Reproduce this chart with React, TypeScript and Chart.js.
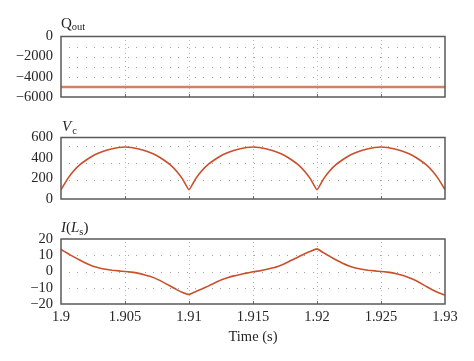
import React, { useEffect, useRef } from "react";
import { Chart, registerables } from "chart.js";

Chart.register(...registerables);

// ---------- data ----------
const timeValues = [
  1.9, 1.9005, 1.901, 1.9015, 1.902, 1.9025, 1.903, 1.9035, 1.904, 1.9045,
  1.905, 1.9055, 1.906, 1.9065, 1.907, 1.9075, 1.908, 1.9085, 1.909, 1.9095,
  1.91, 1.9105, 1.911, 1.9115, 1.912, 1.9125, 1.913, 1.9135, 1.914, 1.9145,
  1.915, 1.9155, 1.916, 1.9165, 1.917, 1.9175, 1.918, 1.9185, 1.919, 1.9195,
  1.92, 1.9205, 1.921, 1.9215, 1.922, 1.9225, 1.923, 1.9235, 1.924, 1.9245,
  1.925, 1.9255, 1.926, 1.9265, 1.927, 1.9275, 1.928, 1.9285, 1.929, 1.9295,
  1.93,
];

const qTimes = [1.9, 1.93];
const qValues = [-5000, -5000];

const vcValues = [
  90, 194, 275, 337, 383, 422, 451, 474, 490, 503,
  508, 503, 490, 474, 451, 422, 383, 337, 275, 194,
  90, 194, 275, 337, 383, 422, 451, 474, 490, 503,
  508, 503, 490, 474, 451, 422, 383, 337, 275, 194,
  90, 194, 275, 337, 383, 422, 451, 474, 490, 503,
  508, 503, 490, 474, 451, 422, 383, 337, 275, 194,
  90,
];

const iValues = [
  13.5, 11.2, 9.0, 6.9, 4.9, 3.3, 2.2, 1.4, 0.8, 0.4,
  0, -0.4, -1.0, -2.0, -3.1, -4.7, -6.7, -8.8, -11.0, -12.9,
  -14.1, -12.4, -10.8, -9.0, -7.1, -5.3, -3.9, -2.7, -1.8, -1.0,
  -0.2, 0.4, 1.2, 2.2, 3.3, 4.9, 6.9, 8.8, 10.8, 12.5,
  13.9, 11.6, 9.3, 7.1, 5.1, 3.4, 2.2, 1.4, 0.8, 0.4,
  0, -0.4, -1.0, -2.0, -3.2, -4.8, -6.8, -9.0, -11.2, -13.1,
  -14.5,
];

const xTicks = [1.9, 1.905, 1.91, 1.915, 1.92, 1.925, 1.93];
const xTickLabels = ["1.9", "1.905", "1.91", "1.915", "1.92", "1.925", "1.93"];
const xGrid = [1.905, 1.91, 1.915, 1.92, 1.925];

const qTicks = [0, -2000, -4000, -6000];
const qTickLabels = ["0", "\u22122000", "\u22124000", "\u22126000"];
const qGrid = [-1000, -2000, -3000, -4000];

const vcTicks = [0, 200, 400, 600];
const vcTickLabels = ["0", "200", "400", "600"];
const vcGrid = [520, 355, 185];

const iTicks = [-20, -10, 0, 10, 20];
const iTickLabels = ["\u221220", "\u221210", "0", "10", "20"];
const iGrid = [10, 0, -10];

// ---------- styles ----------
const FONT = "'Liberation Serif', 'DejaVu Serif', serif";
const TEXT = "#262626";

function framePlugin(gridYs: number[]) {
  return {
    id: "frameGrid",
    beforeDatasetsDraw(chart: any) {
      const { ctx, chartArea: a, scales } = chart;
      ctx.save();
      ctx.fillStyle = "rgba(130,130,130,0.75)";
      for (const v of gridYs) {
        const y = Math.round(scales.y.getPixelForValue(v));
        for (let x = a.left + 8; x < a.right - 3; x += 8.4) {
          ctx.fillRect(Math.round(x), y, 1, 1);
        }
      }
      ctx.fillStyle = "rgba(140,140,140,0.6)";
      for (const v of xGrid) {
        const x = Math.round(scales.x.getPixelForValue(v));
        for (let y = a.top + 3; y < a.bottom - 2; y += 4.4) {
          ctx.fillRect(x, Math.round(y), 1, 1);
        }
      }
      ctx.restore();
    },
    afterDatasetsDraw(chart: any) {
      const { ctx, chartArea: a, scales } = chart;
      ctx.save();
      ctx.strokeStyle = "#6a6a6a";
      ctx.lineWidth = 1;
      for (const v of xGrid) {
        const x = Math.round(scales.x.getPixelForValue(v)) + 0.5;
        ctx.beginPath();
        ctx.moveTo(x, a.bottom);
        ctx.lineTo(x, a.bottom - 3);
        ctx.stroke();
      }
      ctx.strokeStyle = "#5a5a5a";
      ctx.lineWidth = 1.5;
      ctx.strokeRect(a.left, a.top, a.right - a.left, a.bottom - a.top);
      ctx.restore();
    },
  };
}

type PanelCfg = {
  xs: number[];
  ys: number[];
  color: string;
  lineWidth: number;
  yMin: number;
  yMax: number;
  yTicks: number[];
  yLabels: string[];
  gridYs: number[];
  padTop: number;
  padBottom: number;
  showX: boolean;
};

function buildConfig(c: PanelCfg): any {
  return {
    type: "line",
    data: {
      datasets: [
        {
          data: c.xs.map((x, i) => ({ x, y: c.ys[i] })),
          borderColor: c.color,
          borderWidth: c.lineWidth,
          pointRadius: 0,
          tension: 0.12,
          fill: false,
        },
      ],
    },
    options: {
      animation: false,
      responsive: false,
      maintainAspectRatio: false,
      events: [],
      layout: { padding: { left: 0, right: 29, top: c.padTop, bottom: c.padBottom } },
      plugins: { legend: { display: false }, tooltip: { enabled: false } },
      scales: {
        x: {
          type: "linear",
          min: 1.9,
          max: 1.93,
          display: c.showX,
          afterBuildTicks: (s: any) => {
            s.ticks = xTicks.map((v) => ({ value: v }));
          },
          afterFit: (s: any) => {
            if (c.showX) s.height = 41.4;
          },
          grid: { display: false, drawTicks: false },
          border: { display: false },
          ticks: {
            padding: 4,
            autoSkip: false,
            maxRotation: 0,
            color: TEXT,
            font: { family: FONT, size: 14.5 },
            callback: (_v: any, i: number) => xTickLabels[i],
          },
          title: {
            display: true,
            text: "Time (s)",
            color: TEXT,
            font: { family: FONT, size: 14.5 },
            padding: { top: 0, bottom: 0 },
          },
        },
        y: {
          type: "linear",
          min: c.yMin,
          max: c.yMax,
          afterBuildTicks: (s: any) => {
            s.ticks = c.yTicks.map((v) => ({ value: v }));
          },
          afterFit: (s: any) => {
            s.width = 61;
          },
          grid: { display: false, drawTicks: false },
          border: { display: false },
          ticks: {
            padding: 8,
            autoSkip: false,
            color: TEXT,
            font: { family: FONT, size: 14.5 },
            callback: (v: any) => {
              const k = c.yTicks.indexOf(Number(v));
              return k >= 0 ? c.yLabels[k] : "";
            },
          },
        },
      },
    },
    plugins: [framePlugin(c.gridYs)],
  };
}

function Panel({ top, height, cfg }: { top: number; height: number; cfg: PanelCfg }) {
  const ref = useRef<HTMLCanvasElement | null>(null);
  useEffect(() => {
    const chart = new Chart(ref.current as HTMLCanvasElement, buildConfig(cfg));
    return () => chart.destroy();
  }, []);
  return (
    <canvas
      ref={ref}
      width={474}
      height={height}
      style={{ position: "absolute", left: 0, top, width: 474, height, display: "block" }}
    />
  );
}

const titleBase: React.CSSProperties = {
  position: "absolute",
  fontFamily: FONT,
  fontSize: 15,
  lineHeight: "15px",
  color: TEXT,
  whiteSpace: "nowrap",
};
const subStyle: React.CSSProperties = { fontSize: 10.5, position: "relative", top: 2 };

export default function App() {
  return (
    <div
      style={{
        position: "fixed",
        left: 0,
        top: 0,
        width: 474,
        height: 361,
        background: "#ffffff",
        overflow: "hidden",
      }}
    >
      <Panel
        top={0}
        height={118}
        cfg={{
          xs: qTimes,
          ys: qValues,
          color: "#cf8266",
          lineWidth: 2.5,
          yMin: -6000,
          yMax: 0,
          yTicks: qTicks,
          yLabels: qTickLabels,
          gridYs: qGrid,
          padTop: 36.5,
          padBottom: 21,
          showX: false,
        }}
      />
      <Panel
        top={110}
        height={110}
        cfg={{
          xs: timeValues,
          ys: vcValues,
          color: "#c9502c",
          lineWidth: 1.6,
          yMin: 0,
          yMax: 600,
          yTicks: vcTicks,
          yLabels: vcTickLabels,
          gridYs: vcGrid,
          padTop: 27.5,
          padBottom: 21,
          showX: false,
        }}
      />
      <Panel
        top={220}
        height={141}
        cfg={{
          xs: timeValues,
          ys: iValues,
          color: "#c9502c",
          lineWidth: 1.6,
          yMin: -20,
          yMax: 20,
          yTicks: iTicks,
          yLabels: iTickLabels,
          gridYs: iGrid,
          padTop: 19,
          padBottom: 15.6,
          showX: true,
        }}
      />
      <div style={{ ...titleBase, left: 61, top: 16 }}>
        Q<span style={subStyle}>out</span>
      </div>
      <div style={{ ...titleBase, left: 62, top: 119 }}>
        <i>V</i>
        <span style={{ ...subStyle, top: 3, marginLeft: 1 }}>c</span>
      </div>
      <div style={{ ...titleBase, left: 61, top: 219.5 }}>
        <i>I</i>(<i>L</i>
        <span style={{ ...subStyle, top: 3 }}>s</span>)
      </div>
    </div>
  );
}
